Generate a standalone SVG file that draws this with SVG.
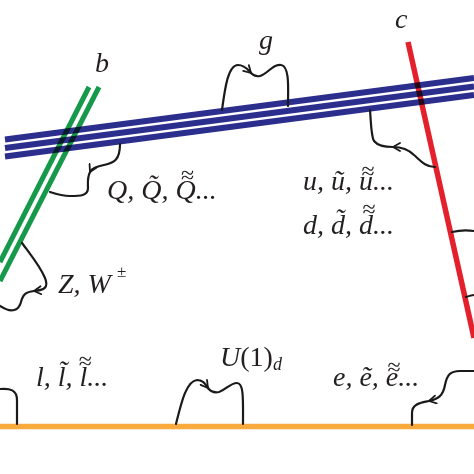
<svg xmlns="http://www.w3.org/2000/svg" width="474" height="474" viewBox="0 0 474 474">
<defs>
<style>
.t{font-family:"Liberation Serif","Times New Roman",serif;font-style:italic;font-size:28px;fill:#231f20}
.up{font-style:normal}
.dt{font-style:normal;font-size:24px}
.str{fill:none;stroke:#1a1a1a;stroke-width:2.2;stroke-linecap:round;stroke-linejoin:round}
.arr{marker-end:url(#ah)}
.blue{stroke:#2b2e8c;stroke-width:6;fill:none;mix-blend-mode:multiply}
.green{stroke:#16994a;stroke-width:5;fill:none}
.red{stroke:#e3202b;stroke-width:5.5;fill:none;mix-blend-mode:multiply}
.orange{stroke:#f9aa3c;stroke-width:5.5;fill:none}
</style>
<marker id="ah" viewBox="0 0 10 10" refX="8" refY="5" markerWidth="10" markerHeight="10" markerUnits="userSpaceOnUse" orient="auto">
<path d="M1,1 L8,5 L1,9" fill="none" stroke="#1a1a1a" stroke-width="1.8" stroke-linecap="round" stroke-linejoin="round"/>
</marker>
</defs>
<rect width="474" height="474" fill="#ffffff"/>
<g id="brane-b">
<line class="green" x1="89" y1="87" x2="0" y2="262"/>
<line class="green" x1="99" y1="87" x2="0" y2="281"/>
</g>
<g id="brane-d">
<line class="orange" x1="0" y1="426.5" x2="474" y2="426.5"/>
</g>
<g id="brane-c">
<line class="red" x1="408" y1="42" x2="474" y2="338"/>
</g>
<g id="brane-a">
<line class="blue" x1="5" y1="139.5" x2="474" y2="78"/>
<line class="blue" x1="5" y1="148" x2="474" y2="86.5"/>
<line class="blue" x1="5" y1="156.5" x2="474" y2="95"/>
</g>
<g id="connectors">
<path class="str arr" d="M222,110 C225,88 228,65 238,65 C245,65 248,70 251,73"/>
<path class="str" d="M251,73 C254,76 256,77 260,76 C268,74 272,64 281,65 C290,66 288,90 288,106"/>
<path class="str arr" d="M120,144 C120,160 114,163 104,165 C96,167 92,168 90,172"/>
<path class="str" d="M90,172 C87,178 88,184 88,188 C88,196 80,196 70,196 C62,196 56,194 50,192"/>
<path class="str arr" d="M435,167 C425,167 420,160 414,155 C408,149 402,147 393,147"/>
<path class="str" d="M393,147 C386,147 378,146 374,141 C371,136 371,122 370,110"/>
<path class="str arr" d="M22,243 C30,254 40,266 45,278 C49,288 44,290 34,291"/>
<path class="str" d="M34,291 C26,292 23,294 21,302 C19,310 12,314 0,306"/>
<path class="str arr" d="M474,371 L460,371 C450,371 447,375 445,385 C443,396 438,399 429,401"/>
<path class="str" d="M429,401 C420,403 412,404 412,413 L412,425"/>
<path class="str arr" d="M176,424 C181,404 186,381 197,380 C203,380 205,384 208,388"/>
<path class="str" d="M208,388 C211,392 214,393 219,392 C226,390 230,383 237,383 C244,383 243,400 243,424"/>
<path class="str" d="M0,389 C10,388 17,390 17,400 L17,424"/>
<path class="str" d="M452,232 C460,230 468,230 474,231"/>
<path class="str" d="M466,297 C469,296 472,295 474,295"/>
</g>
<g id="labels">
<text class="t" x="95" y="72">b</text>
<text class="t" x="259" y="49">g</text>
<text class="t" x="395" y="28">c</text>
<text class="t" x="107" y="199">Q, Q&#x303;, Q<tspan class="dt" dx="-14.7" dy="-16.5">≈</tspan><tspan dx="1.5" dy="16.5">...</tspan></text>
<text class="t" x="303" y="190">u, u&#x303;, u<tspan class="dt" dx="-11.6" dy="-11.5">≈</tspan><tspan dx="-1.6" dy="11.5">...</tspan></text>
<text class="t" x="303" y="234">d, d&#x303;, d<tspan class="dt" dx="-10.6" dy="-17.5">≈</tspan><tspan dx="-2.6" dy="17.5">...</tspan></text>
<text class="t" x="58" y="293">Z, W<tspan class="up" font-size="17" dx="6" dy="-16">±</tspan></text>
<text class="t" x="36" y="386">l, l&#x303;, l<tspan class="dt" dx="-8.5" dy="-17.5">≈</tspan><tspan dx="-4.7" dy="17.5">...</tspan></text>
<text class="t" x="220" y="366">U<tspan class="up">(1)</tspan><tspan font-size="18" dy="4">d</tspan></text>
<text class="t" x="333" y="386">e, e&#x303;, e<tspan class="dt" dx="-10.8" dy="-11.5">≈</tspan><tspan dx="-2.4" dy="11.5">...</tspan></text>
</g>
</svg>
